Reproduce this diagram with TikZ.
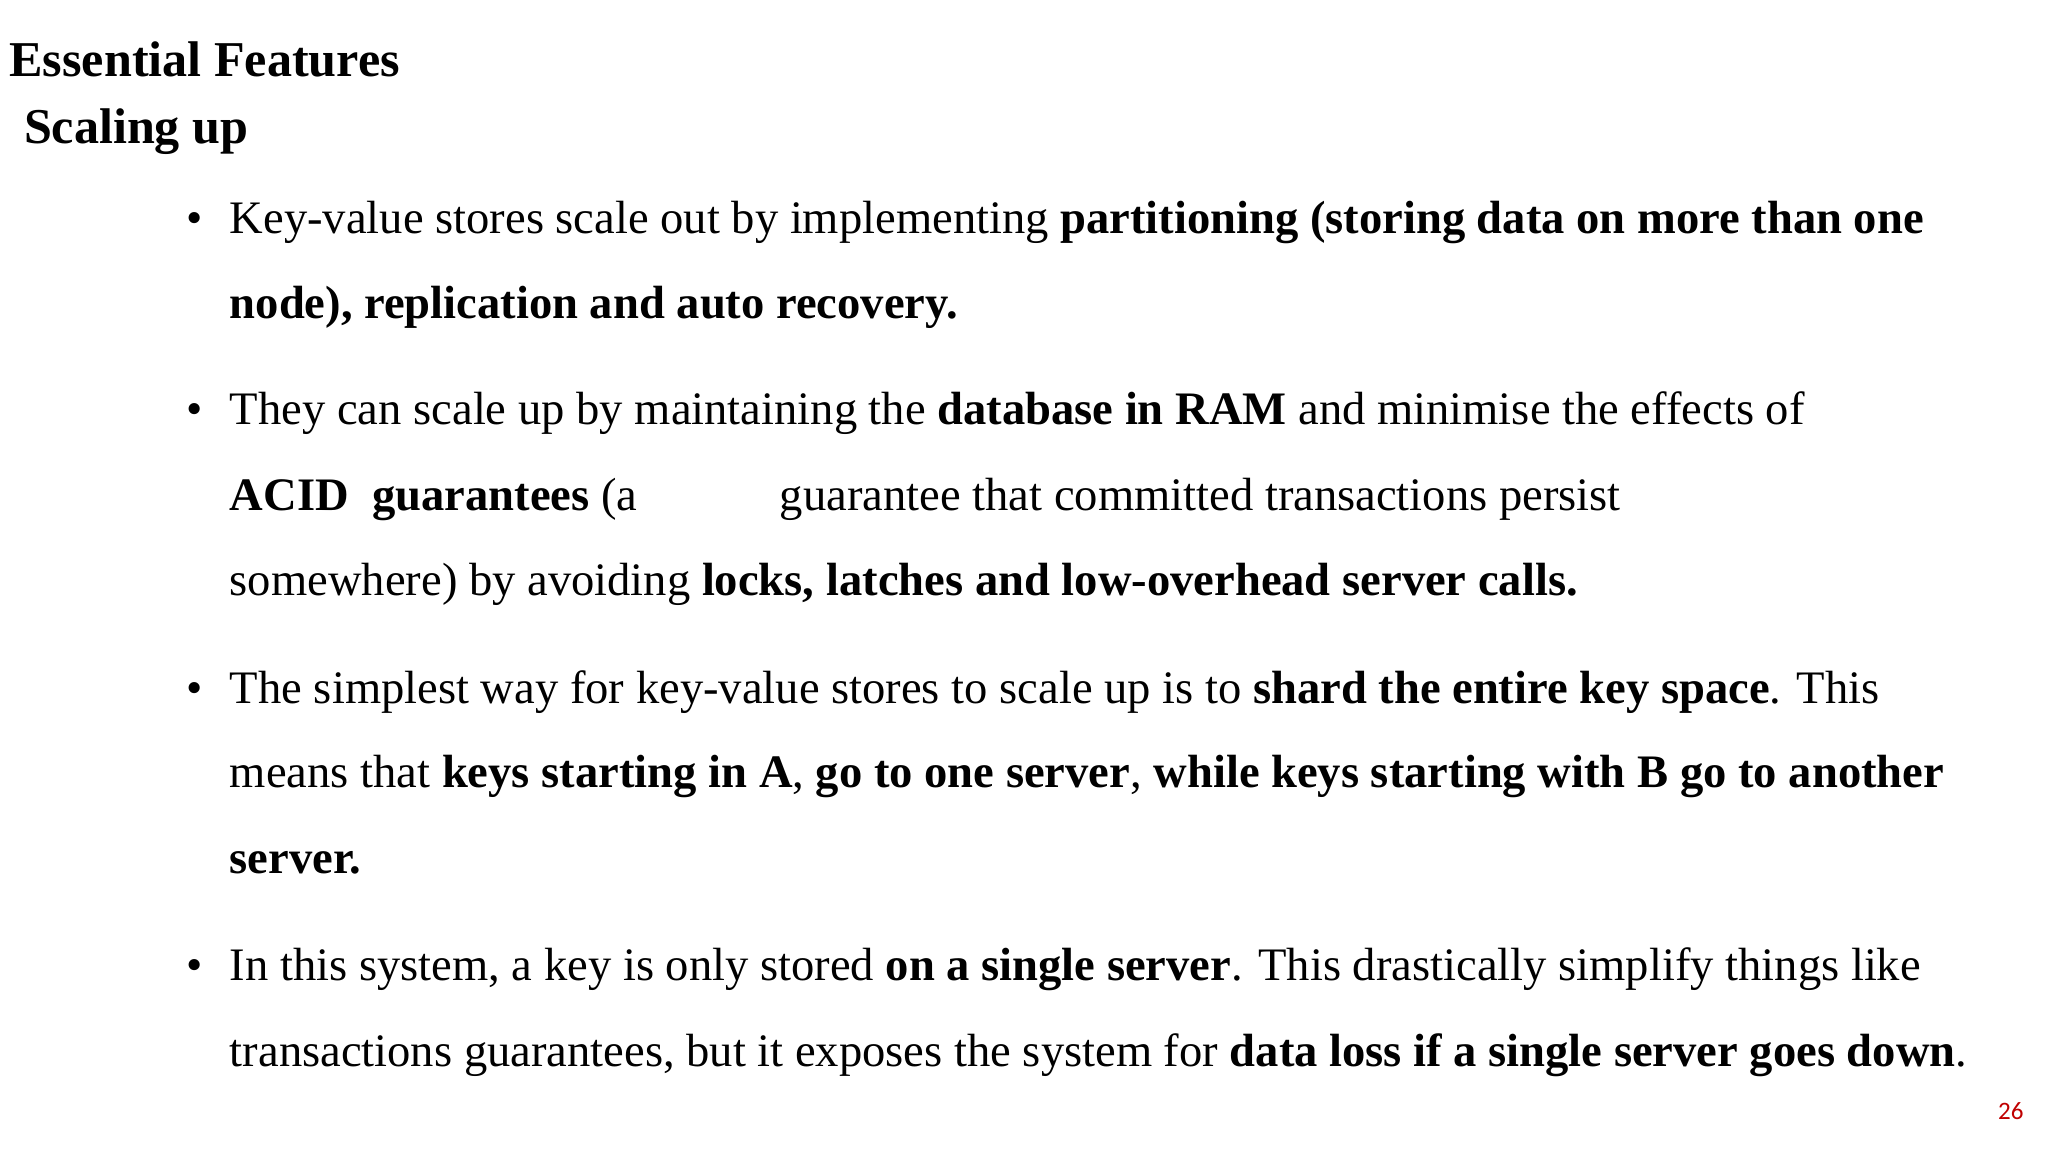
\documentclass[tikz,border=0pt]{standalone}
\usepackage{fontspec}
\setmainfont{Liberation Serif}
\newfontfamily\pgnum{Carlito}
\begin{document}
\begin{tikzpicture}[x=1pt,y=-1pt,
  ln/.style={anchor=base west,inner sep=0pt,font=\fontsize{35.3}{38}\selectfont},
  ttl/.style={anchor=base west,inner sep=0pt,font=\fontsize{38}{40}\selectfont\bfseries}]
\useasboundingbox (0,0) rectangle (1552,873);
\fill[white] (0,0) rectangle (1552,873);
\node[ttl] (t1) at (7,58) {Essential Features};
\node[ttl] (t2) at (18,109) {Scaling up};
\foreach \y/\n in {177/b1,322/b2,533/b3,743/b4}
  \node[ln] (\n) at (141,\y) {•};
\node[ln] (l1) at (174,177) {Key-value stores scale out by implementing \textbf{partitioning (storing data on more than one}};
\node[ln] (l2) at (174,241) {\textbf{node), replication and auto recovery.}};
\node[ln] (l3) at (174,322) {They can scale up by maintaining the \textbf{database in RAM} and minimise the effects of};
\node[ln] (l4) at (174,387) {\textbf{ACID\ \ guarantees} (a\hspace{108pt}guarantee that committed transactions persist};
\node[ln] (l5) at (174,451) {somewhere) by avoiding \textbf{locks, latches and low-overhead server calls.}};
\node[ln] (l6) at (174,533) {The simplest way for key-value stores to scale up is to \textbf{shard the entire key space}. This};
\node[ln] (l7) at (174,597) {means that \textbf{keys starting in A}, \textbf{go to one server}, \textbf{while keys starting with B go to another}};
\node[ln] (l8) at (174,662) {\textbf{server.}};
\node[ln] (l9) at (174,743) {In this system, a key is only stored \textbf{on a single server}. This drastically simplify things like};
\node[ln] (l10) at (174,808) {transactions guarantees, but it exposes the system for \textbf{data loss if a single server goes down}.};
\node[anchor=base west,inner sep=0pt,font=\pgnum\fontsize{19}{21}\selectfont,text={rgb,255:red,192;green,0;blue,0}] (pg) at (1514,848) {26};
\end{tikzpicture}
\end{document}
